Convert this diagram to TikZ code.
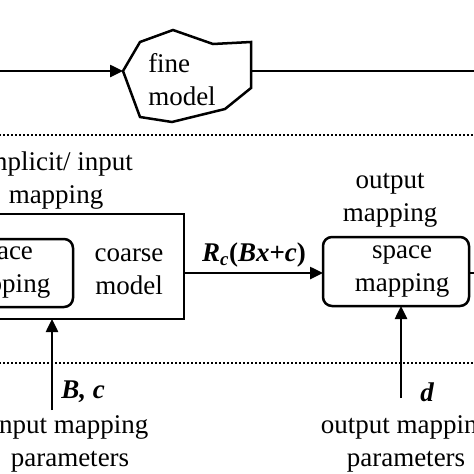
\documentclass[tikz,border=0pt]{standalone}
\usepackage{fontspec}
\setmainfont{Liberation Serif}
\usetikzlibrary{arrows.meta}
\begin{document}
\begin{tikzpicture}[x=1pt,y=-1pt,
  line width=2.5pt,
  lbl/.style={font=\fontsize{27}{33}\selectfont, align=center, inner sep=0pt},
  boxline/.style={draw, line width=2.5pt},
  arr/.style={-{Triangle[length=13pt,width=12pt]}, line width=2.5pt},
  dotline/.style={line width=2.6pt, dash pattern=on 2.2pt off 1.8pt}]
\useasboundingbox (0,0) rectangle (474,474);
% fine model polygon
\coordinate (f1) at (123,71);
\draw[boxline, line join=miter] (f1) -- (140,42) -- (173,30) -- (213,44) -- (251,42) -- (251,88) -- (225,109) -- (172,122) -- (140,117) -- cycle;
\node[lbl, align=left, anchor=west] (fine) at (147,80) {fine\\model};
\coordinate (fL) at (-10,71);
\coordinate (fR0) at (251,71);
\coordinate (fR) at (484,71);
\draw[arr] (fL) -- (f1);
\draw (fR0) -- (fR);
% dotted lines
\coordinate (d1a) at (-5,135);
\coordinate (d1b) at (480,135);
\draw[dotline] (d1a) -- (d1b);
\coordinate (d2a) at (-5,363);
\coordinate (d2b) at (480,363);
\draw[dotline] (d2a) -- (d2b);
% implicit input mapping label
\node[lbl] (imp) at (56,181) {implicit/ input\\mapping};
% coarse model box
\node[draw, line width=2.5pt, minimum width=265pt, minimum height=105pt, inner sep=0pt] (coarse) at (51.5,266.5) {};
\node[lbl] (coarsetxt) at (129,272) {coarse\\model};
% inner space mapping box
\node[draw, line width=2.5pt, rounded corners=9pt, minimum width=140pt, minimum height=68pt, inner sep=0pt] (sm1) at (3,273) {};
\node[lbl] (sm1txt) at (3,273) {space\\mapping};
% output space mapping box
\node[draw, line width=2.5pt, rounded corners=9pt, minimum width=146pt, minimum height=69pt, inner sep=0pt] (sm2) at (396,271.5) {};
\node[lbl] (sm2txt) at (402,272) {space\\mapping};
\node[lbl] (outmap) at (390,200) {output\\mapping};
% connector coarse -> output mapping
\coordinate (cR) at (183.5,273);
\coordinate (sL) at (323,273);
\draw[arr] (cR) -- (sL);
\node[lbl, font=\fontsize{27}{33}\selectfont\bfseries] (rc) at (254,255) {\textit{R}\textsubscript{\textit{c}}(\textit{Bx}+\textit{c})};
\coordinate (sR) at (469,273);
\coordinate (sRe) at (484,273);
\draw (sR) -- (sRe);
% parameter arrows
\coordinate (bcS) at (52,410);
\coordinate (bcT) at (52,319);
\draw[arr] (bcS) -- (bcT);
\node[lbl, anchor=west, font=\fontsize{27}{33}\selectfont\bfseries\itshape] (bc) at (60,392) {B, c};
\coordinate (dS) at (401,398);
\coordinate (dT) at (401,306);
\draw[arr] (dS) -- (dT);
\node[lbl, font=\fontsize{27}{33}\selectfont\bfseries\itshape] (d) at (427,392) {d};
% bottom labels
\node[lbl] (inpar) at (70,444) {input mapping\\parameters};
\node[lbl] (outpar) at (406,444) {output mapping\\parameters};
\end{tikzpicture}
\end{document}
